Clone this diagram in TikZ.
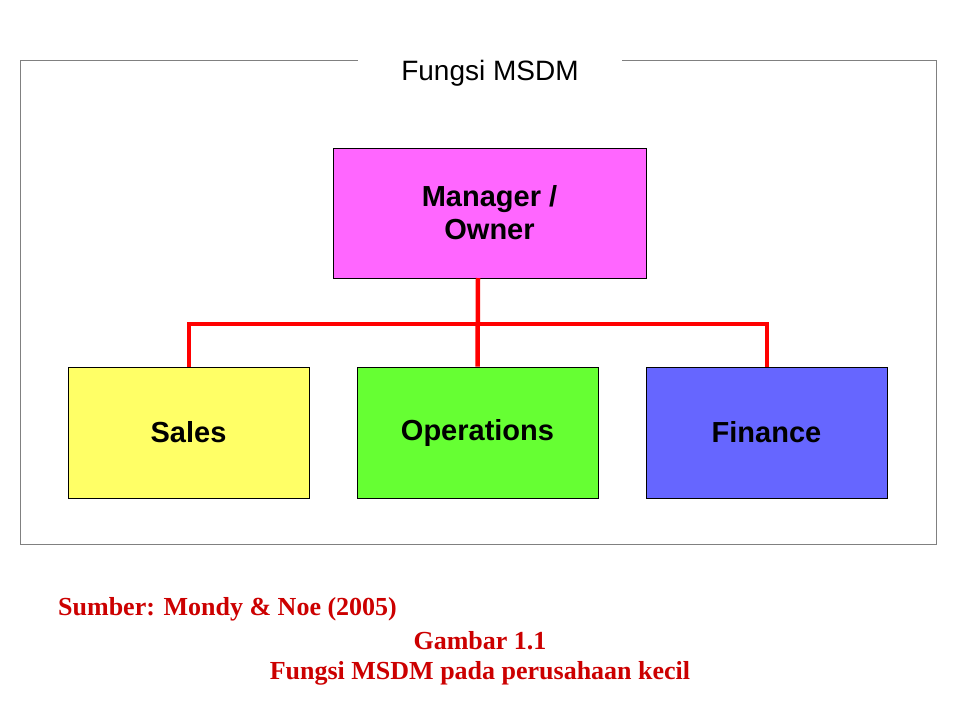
\documentclass[tikz,border=0pt]{standalone}
\usepackage{fontspec}
\setmainfont{Liberation Sans}
\newfontfamily\tnr{Liberation Serif}
\definecolor{mag}{RGB}{255,102,255}
\definecolor{yel}{RGB}{255,255,102}
\definecolor{grn}{RGB}{102,255,51}
\definecolor{blu}{RGB}{102,102,255}
\definecolor{cap}{RGB}{204,0,0}
\begin{document}
\begin{tikzpicture}[x=1pt,y=-1pt,
  box/.style={draw=black,line width=0.8pt,minimum width=241pt,minimum height=131pt,inner sep=0pt,font=\fontsize{29}{33}\selectfont\bfseries,align=center},
  link/.style={draw=red,line width=4.5pt},
  captxt/.style={font=\tnr\fontsize{26}{30}\selectfont\bfseries,text=cap,inner sep=0pt}]
\useasboundingbox (0,0) rectangle (960,720);
\fill[white] (0,0) rectangle (960,720);
\draw[gray,line width=1pt] (20,60) rectangle (936,544);
\fill[white] (358,50) rectangle (622,70);
\node[font=\fontsize{28}{32}\selectfont] (title) at (490,73) {Fungsi MSDM};
\node[box,fill=mag,minimum width=313pt,minimum height=130pt] (mgr) at (489.5,213) {Manager /\\Owner};
\node[box,fill=yel] (sales) at (188.5,432.5) {Sales};
\node[box,fill=grn] (ops) at (477.5,432.5) {Operations};
\node[box,fill=blu] (fin) at (766.5,432.5) {Finance};
\coordinate (j) at (478,324);
\draw[link] (478,278) -- (ops.north);
\draw[link] (sales.north -| 189,0) -- (189,324) -- (767,324) -- (fin.north -| 767,0);
\node[captxt,anchor=west] (src) at (58,609) {Sumber: Mondy \& Noe (2005)};
\node[captxt] (g) at (480,641) {Gambar 1.1};
\node[captxt] (f) at (480,673) {Fungsi MSDM pada perusahaan kecil};
\end{tikzpicture}
\end{document}
